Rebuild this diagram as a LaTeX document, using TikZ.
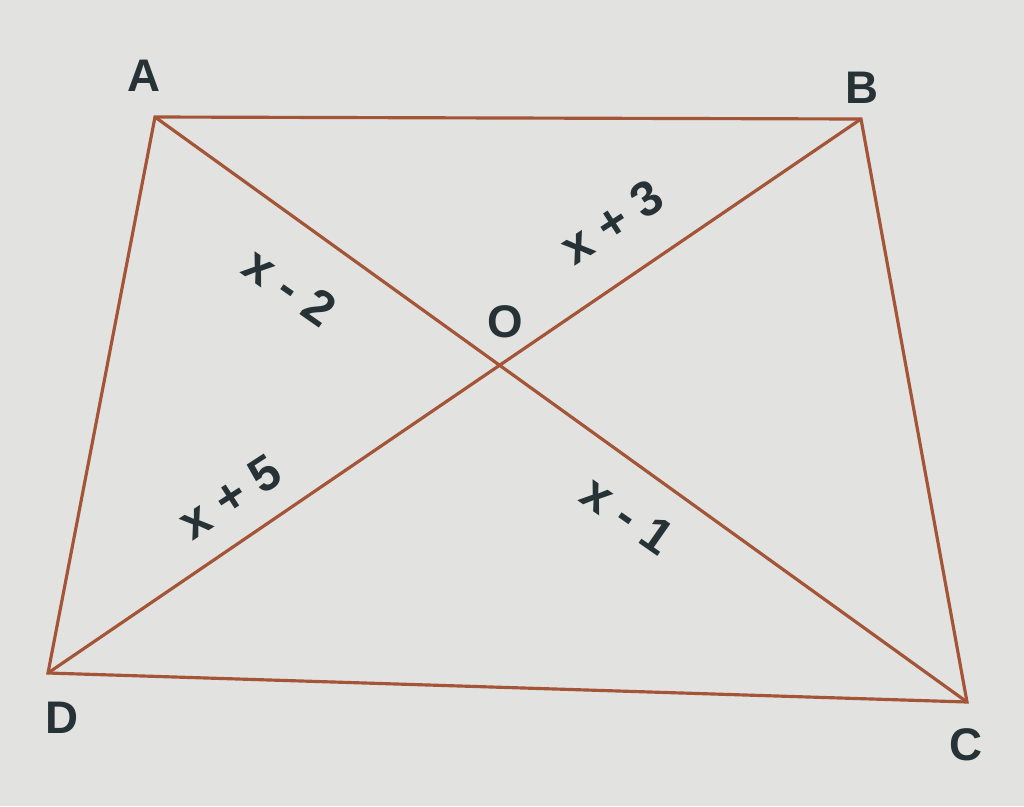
\documentclass[tikz,border=0pt]{standalone}
\usepackage{fontspec}
\setmainfont{Liberation Sans}
\usepackage{tikz}
\definecolor{papel}{RGB}{226,226,224}
\definecolor{linea}{RGB}{165,85,55}
\definecolor{tinta}{RGB}{38,50,54}
\tikzstyle{lado} = [draw=linea, line width=1.8pt]
\tikzstyle{vertice} = [text=tinta, font=\fontsize{26}{28}\selectfont\bfseries, inner sep=0pt]
\tikzstyle{medida} = [text=tinta, font=\fontsize{28}{30}\selectfont\bfseries, inner sep=0pt]

\begin{document}
\begin{tikzpicture}[x=0.02cm, y=-0.02cm]
	\fill[papel] (0,0) rectangle (1024,806);
	\coordinate (A) at (155,117);
	\coordinate (B) at (861,119);
	\coordinate (C) at (967,702);
	\coordinate (D) at (48,673);
	\coordinate (O) at (intersection of A--C and B--D);
	\draw[lado] (A) -- (B) -- (C) -- (D) -- cycle;
	\draw[lado] (A) -- (C);
	\draw[lado] (B) -- (D);
	\node[vertice] (lA) at (144,76) {A};
	\node[vertice] (lB) at (862,88) {B};
	\node[vertice] (lC) at (966,745) {C};
	\node[vertice] (lD) at (62,718) {D};
	\node[vertice] (lO) at (505,322) {O};
	\node[medida, rotate=-35] (m1) at (290,287) {x - 2};
	\node[medida, rotate=33] (m2) at (612,222) {x + 3};
	\node[medida, rotate=33] (m3) at (230,497) {x + 5};
	\node[medida, rotate=-35] (m4) at (628,515) {x - 1};
\end{tikzpicture}
\end{document}
